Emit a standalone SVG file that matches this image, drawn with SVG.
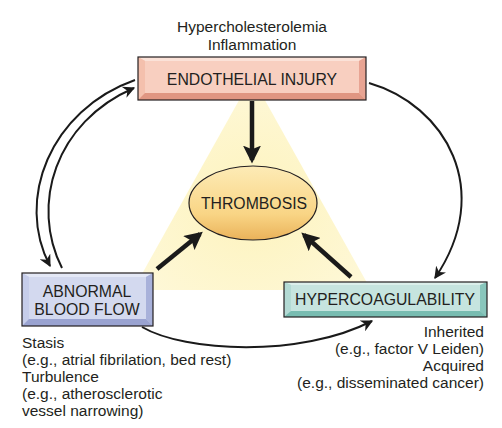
<svg xmlns="http://www.w3.org/2000/svg" width="502" height="428" viewBox="0 0 502 428">
<defs>
<style>
.t{font-family:"Liberation Sans",Arial,sans-serif;font-size:15.5px;fill:#231f20}
.b{font-size:15.8px}
.lbl{text-anchor:middle}
.ol{fill:none;stroke:#231f20;stroke-width:1.2}
.thin{fill:none;stroke:#1a1a1a;stroke-width:2}
.thick{fill:none;stroke:#1a1a1a;stroke-width:4.5}
</style>
<marker id="ah" viewBox="0 0 10 10" refX="9" refY="5" markerWidth="12" markerHeight="12" markerUnits="userSpaceOnUse" orient="auto">
<path d="M0,0 L10,5 L0,10 L3,5 z" fill="#1a1a1a"/>
</marker>
<marker id="ahb" viewBox="0 0 10 10" refX="8" refY="5" markerWidth="18" markerHeight="18" markerUnits="userSpaceOnUse" orient="auto">
<path d="M0,0 L10,5 L0,10 L2,5 z" fill="#1a1a1a"/>
</marker>
<linearGradient id="thr" x1="0" y1="0" x2="0" y2="1">
<stop offset="0" stop-color="#fdebb6"/>
<stop offset="0.65" stop-color="#f9d585"/>
<stop offset="1" stop-color="#eab25a"/>
</linearGradient>
<radialGradient id="tri" cx="0.5" cy="0.6" r="0.6">
<stop offset="0" stop-color="#fdf3bd"/>
<stop offset="1" stop-color="#fef8d8"/>
</radialGradient>
</defs>
<rect width="502" height="428" fill="#ffffff"/>
<polygon points="252,77 133,290 371,290" fill="url(#tri)"/>

<g id="connectors">
<path class="thin" d="M135,80 C50,110 15,200 50,266" marker-end="url(#ah)"/>
<path class="thin" d="M62,268 C30,205 55,122 134,88" marker-end="url(#ah)"/>
<path class="thin" d="M369,83 C445,105 495,190 435,278" marker-end="url(#ah)"/>
<path class="thin" d="M142,327 C185,352 300,358 372,321" marker-end="url(#ah)"/>
<path class="thick" d="M252,101 L252,160" marker-end="url(#ahb)"/>
<path class="thick" d="M157,269 L200,234" marker-end="url(#ahb)"/>
<path class="thick" d="M351,277 L304,235" marker-end="url(#ahb)"/>
</g>

<g id="endothelial">
<rect x="138" y="57" width="228" height="43" fill="#f6c6b4"/>
<polygon points="138,57 366,57 359,61 145,61" fill="#fbe2d8"/>
<polygon points="138,57 145,61 145,93 138,100" fill="#f4c0ad"/>
<polygon points="366,57 366,100 359,93 359,61" fill="#e8a493"/>
<polygon points="138,100 145,93 359,93 366,100" fill="#e09682"/>
<rect x="145" y="61" width="214" height="32" fill="#f8cfc0"/>
<rect class="ol" x="138" y="57" width="228" height="43"/>
<text class="t b lbl" x="252" y="85">ENDOTHELIAL INJURY</text>
</g>
<text class="t lbl" x="252" y="32">Hypercholesterolemia</text>
<text class="t lbl" x="252" y="50">Inflammation</text>

<g id="abnormal">
<rect x="22" y="273" width="131" height="53" fill="#c8cfea"/>
<polygon points="22,273 153,273 146,277 29,277" fill="#e4e8f6"/>
<polygon points="22,273 29,277 29,319 22,326" fill="#c6cdea"/>
<polygon points="153,273 153,326 146,319 146,277" fill="#a8b1da"/>
<polygon points="22,326 29,319 146,319 153,326" fill="#9aa3d1"/>
<rect x="29" y="277" width="117" height="42" fill="#d3d9ef"/>
<rect class="ol" x="22" y="273" width="131" height="53"/>
<text class="t b lbl" x="87" y="297">ABNORMAL</text>
<text class="t b lbl" x="87" y="315">BLOOD FLOW</text>
</g>
<text class="t" x="22" y="348">Stasis</text>
<text class="t" x="22" y="365">(e.g., atrial fibrilation, bed rest)</text>
<text class="t" x="22" y="382">Turbulence</text>
<text class="t" x="22" y="399">(e.g., atherosclerotic</text>
<text class="t" x="22" y="416">vessel narrowing)</text>

<g id="hypercoag">
<rect x="284" y="282" width="203" height="35" fill="#b5dbd5"/>
<polygon points="284,282 487,282 480,285 291,285" fill="#dcefeb"/>
<polygon points="284,282 291,285 291,311 284,317" fill="#b3dad4"/>
<polygon points="487,282 487,317 480,311 480,285" fill="#89c6bc"/>
<polygon points="284,317 291,311 480,311 487,317" fill="#78bcb1"/>
<rect x="291" y="285" width="189" height="26" fill="#c6e4df"/>
<rect class="ol" x="284" y="282" width="203" height="35"/>
<text class="t b lbl" x="385" y="305">HYPERCOAGULABILITY</text>
</g>
<text class="t" x="484" y="337" text-anchor="end">Inherited</text>
<text class="t" x="484" y="354" text-anchor="end">(e.g., factor V Leiden)</text>
<text class="t" x="484" y="371" text-anchor="end">Acquired</text>
<text class="t" x="484" y="388" text-anchor="end">(e.g., disseminated cancer)</text>

<g id="thrombosis">
<ellipse cx="253" cy="203" rx="64" ry="37" fill="url(#thr)" stroke="#231f20" stroke-width="1.2"/>
<text class="t b lbl" x="254" y="209">THROMBOSIS</text>
</g>
</svg>
